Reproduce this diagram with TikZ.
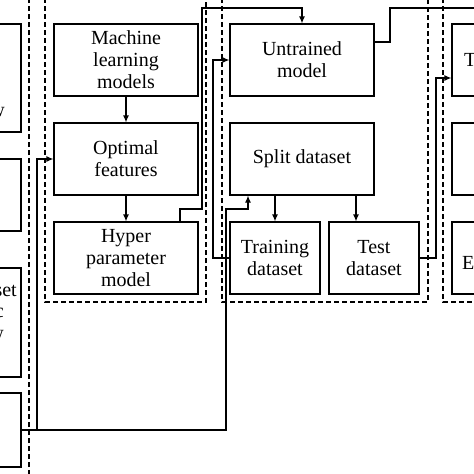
\documentclass[tikz,border=0pt]{standalone}
\usepackage{fontspec}
\setmainfont{Liberation Serif}
\usetikzlibrary{arrows.meta}

\tikzset{
  box/.style={draw, line width=1.2pt, minimum width=144pt, minimum height=72pt,
    align=center, inner sep=0pt, font=\fontsize{20}{22}\selectfont},
  smallbox/.style={box, minimum width=90pt},
  group/.style={draw, line width=1.2pt, dash pattern=on 5pt off 3pt},
  link/.style={line width=1.2pt},
  arr/.style={link, -{Latex[length=7pt,width=6pt]}},
  frag/.style={inner sep=0pt, font=\fontsize{20}{22}\selectfont}
}

\begin{document}
\begin{tikzpicture}[x=1pt,y=-1pt]
    \useasboundingbox (0,0) rectangle (474,474);
    \clip (0,0) rectangle (474,474);
    % dashed groups
    \draw[group] (-200,-10) rectangle (29,490);
    \draw[group] (45,-10) rectangle (206,302);
    \draw[group] (222,-10) rectangle (428,302);
    \draw[group] (443,-10) rectangle (700,302);
    % first column (cut off)
    \node[box, minimum height=108pt] (in1) at (-51,78) {};
    \node[box] (in2) at (-51,195) {};
    \node[box, minimum height=109pt] (in3) at (-51,322.5) {};
    \node[box, minimum height=74pt] (in4) at (-51,430) {};
    \node[frag, anchor=east] (w1) at (5,112) {w};
    \node[frag, anchor=east] (set) at (17,291) {set};
    \node[frag, anchor=east] (c3) at (4,313) {c};
    \node[frag, anchor=east] (w3) at (4,335) {w};
    % second column
    \node[box] (ml) at (126,60) {Machine\\learning\\models};
    \node[box] (opt) at (126,159) {Optimal\\features};
    \node[box] (hyp) at (126,258) {Hyper\\parameter\\model};
    % third column
    \node[box] (untr) at (302,60) {Untrained\\model};
    \node[box] (split) at (302,159) {Split dataset};
    \node[smallbox] (train) at (275,258) {Training\\dataset};
    \node[smallbox] (test) at (374,258) {Test\\dataset};
    % fourth column (cut off)
    \node[box] (ev1) at (524,60) {};
    \node[box] (ev2) at (524,159) {};
    \node[box] (ev3) at (524,258) {};
    \node[frag, anchor=west] (t4) at (464,60) {T};
    \node[frag, anchor=west] (e4) at (462,263) {E};
    % connectors
    \draw[arr] (ml) -- (opt);
    \draw[arr] (opt) -- (hyp);
    \draw[arr] ([xshift=54pt]hyp.north) |- (202,209) |- (302,8) -- (untr.north);
    \draw[arr] (in4.east) -| (226,209) -| ([xshift=-54pt]split.south);
    \draw[arr] (37,430) |- (opt.west);
    \draw[arr] (split.south -| train.north) -- (train.north);
    \draw[arr] ([xshift=-18pt]split.south -| test.north) -- ([xshift=-18pt]test.north);
    \draw[arr] (train.west) -| (213,60) -- (untr.west);
    \draw[link] ([yshift=18pt]untr.east) -| (390,8) -- (490,8);
    \draw[arr] (test.east) -| (436,78) -- (ev1.west |- 436,78);
\end{tikzpicture}
\end{document}
